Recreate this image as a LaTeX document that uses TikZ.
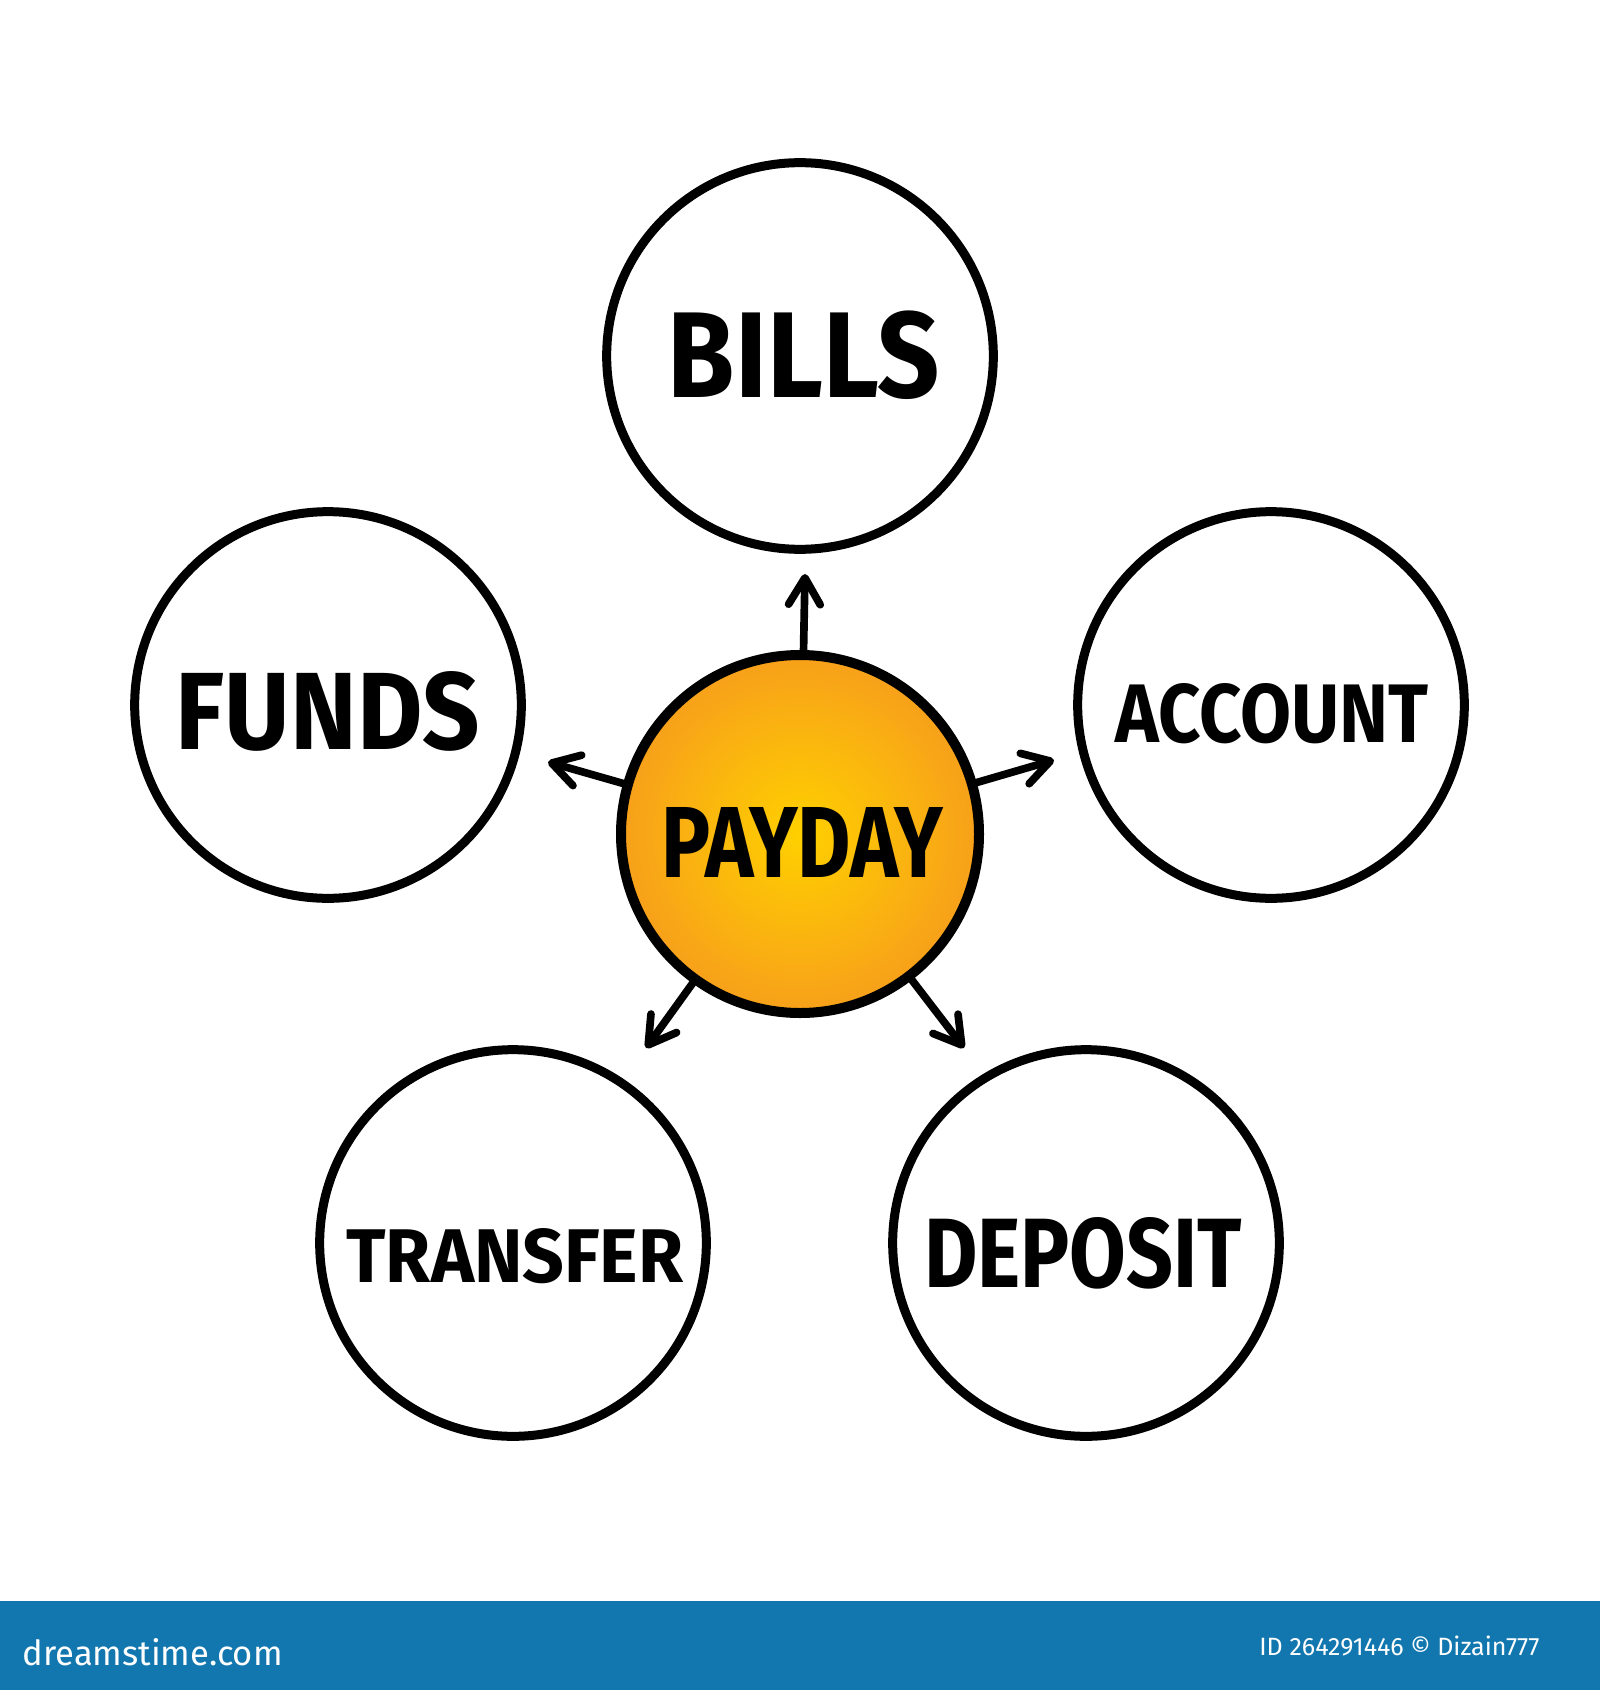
\documentclass[tikz,border=0pt]{standalone}
\usepackage{fontspec}
\setmainfont{Fira Sans}
\usetikzlibrary{arrows.meta}
\definecolor{barblue}{HTML}{1277AF}
\definecolor{payin}{HTML}{FFD000}
\definecolor{payout}{HTML}{F7A01A}
\newcommand{\lbl}[3]{\resizebox{#1pt}{#2pt}{\bfseries #3}}
\tikzset{
  bubble/.style={circle, draw=black, line width=2.7pt, fill=white, minimum size=116pt, inner sep=0pt},
  hub/.style={circle, draw=black, line width=3pt, shading=radial, inner color=payin, outer color=payout, minimum size=107.4pt, inner sep=0pt},
  lab/.style={inner sep=0pt, text=black},
  arr/.style={line width=2.3pt, line cap=round, -{Straight Barb[length=8pt,width=9.5pt,round]}},
  bartext/.style={inner sep=0pt, text=white}
}
\begin{document}
\begin{tikzpicture}[x=0.3pt,y=-0.3pt]
\useasboundingbox (0,0) rectangle (1600,1690);
\fill[white] (0,0) rectangle (1600,1690);
\fill[barblue] (0,1601) rectangle (1600,1690);

\node[bubble] (bills) at (800,356) {};
\node[bubble] (funds) at (328,705) {};
\node[bubble] (account) at (1271,705) {};
\node[bubble] (transfer) at (513,1243) {};
\node[bubble] (deposit) at (1086,1243) {};
\node[hub] (pay) at (800,834) {};

\node[lab] (lbills) at (804,355) {\lbl{81.6}{26}{BILLS}};
\node[lab] (lfunds) at (328,711) {\lbl{91.2}{23.4}{FUNDS}};
\node[lab] (laccount) at (1272,714) {\lbl{93.9}{17.7}{ACCOUNT}};
\node[lab] (lpay) at (802,842) {\lbl{84.6}{21}{PAYDAY}};
\node[lab] (ltransfer) at (515,1256) {\lbl{101.1}{16.2}{TRANSFER}};
\node[lab] (ldeposit) at (1083,1253) {\lbl{95.4}{21}{DEPOSIT}};

\coordinate (tipB) at (805,574);
\coordinate (tipF) at (548,762);
\coordinate (tipA) at (1054,760);
\coordinate (tipT) at (646,1048);
\coordinate (tipD) at (964,1048);

\draw[arr] (pay) -- (tipB);
\draw[arr] (pay) -- (tipF);
\draw[arr] (pay) -- (tipA);
\draw[arr] (pay) -- (tipT);
\draw[arr] (pay) -- (tipD);

\node[bartext, anchor=west] (brand) at (22,1652) {\resizebox{78pt}{!}{dreamstime.com}};
\node[bartext, anchor=east] (credit) at (1540,1646) {\resizebox{84pt}{!}{ID 264291446 © Dizain777}};
\end{tikzpicture}
\end{document}
